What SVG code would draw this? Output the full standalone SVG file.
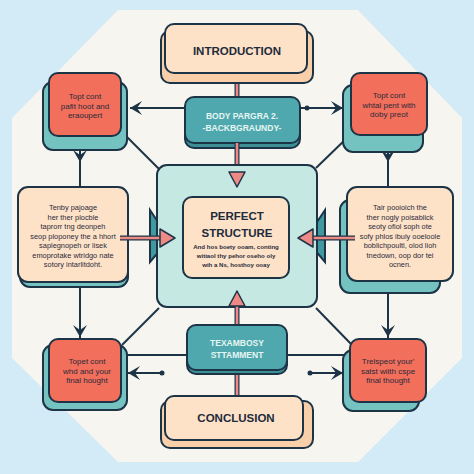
<svg xmlns="http://www.w3.org/2000/svg" width="474" height="474" viewBox="0 0 474 474">
<defs>
<style>
.o{stroke:#1d3447;stroke-width:2}
.red{fill:#f26f5c}
.tealsh{fill:#74c3c1}
.peach{fill:#fde2c8}
.peachsh{fill:#f8cfa9}
.tbox{fill:#4fa8ad}
.ln{stroke:#1d3447;stroke-width:2;fill:none}
.pk{stroke:#1d3447;stroke-width:5;fill:none}
.pki{stroke:#ee8a86;stroke-width:2.6;fill:none}
.ah{fill:#ee8a86;stroke:#1d3447;stroke-width:1.5;stroke-linejoin:round}
.da{fill:#1d3447}
.t{font-family:"Liberation Sans",Arial,sans-serif;fill:#2a2a3a;text-anchor:middle}
.s{font-size:7.4px}
.r{font-size:8px}
.h{font-weight:bold;font-size:11.5px;fill:#1d2b3a}
.w{fill:#e6f6f3;font-weight:bold;font-size:8.5px}
</style>
</defs>
<rect width="474" height="474" fill="#d3eaf7"/>
<polygon points="118,10 358,10 462,118 462,358 358,462 118,462 12,358 12,118" fill="#f6f5ef"/>

<g id="connectors">
<line class="ln" x1="125" y1="135" x2="160" y2="170"/>
<line class="ln" x1="350" y1="135" x2="316" y2="168"/>
<line class="ln" x1="122" y1="345" x2="159" y2="308"/>
<line class="ln" x1="352" y1="345" x2="316" y2="308"/>
<line class="ln" x1="80" y1="136" x2="80" y2="187"/>
<path class="da" d="M73,150 L80,162 L87,150 L80,155 Z"/>
<line class="ln" x1="80" y1="282" x2="80" y2="339"/>
<path class="da" d="M73,325 L80,337 L87,325 L80,330 Z"/>
<line class="ln" x1="388" y1="150" x2="388" y2="187"/>
<path class="da" d="M381,150 L388,162 L395,150 L388,155 Z"/>
<line class="ln" x1="388" y1="293" x2="388" y2="339"/>
<path class="da" d="M381,325 L388,337 L395,325 L388,330 Z"/>
<line class="ln" x1="185" y1="108" x2="130" y2="108"/>
<path class="da" d="M142,101 L130,108 L142,115 L137,108 Z"/>
<line class="ln" x1="300" y1="108" x2="342" y2="108"/>
<path class="da" d="M331,101 L343,108 L331,115 L336,108 Z"/>
<line class="ln" x1="127" y1="355" x2="187" y2="355"/>
<line class="ln" x1="162" y1="373" x2="128" y2="373"/>
<path class="da" d="M140,366 L128,373 L140,380 L135,373 Z"/>
<circle class="da" cx="162" cy="373" r="2.5"/>
<line class="ln" x1="287" y1="355" x2="350" y2="355"/>
<line class="ln" x1="310" y1="373" x2="343" y2="373"/>
<path class="da" d="M331,366 L343,373 L331,380 L336,373 Z"/>
<circle class="da" cx="310" cy="373" r="2.5"/>
<circle class="da" cx="307" cy="108" r="2.5"/>
<line class="pk" x1="237" y1="67" x2="237" y2="100"/>
<line class="pki" x1="237" y1="67" x2="237" y2="100"/>
<line class="pk" x1="237" y1="370" x2="237" y2="400"/>
<line class="pki" x1="237" y1="370" x2="237" y2="400"/>
</g>

<g id="introduction">
<rect class="peachsh o" x="161" y="31" width="152" height="52" rx="9"/>
<rect class="peach o" x="165" y="24" width="142" height="49" rx="9"/>
<text class="t h" x="237" y="55">INTRODUCTION</text>
</g>

<g id="top-left">
<rect class="tealsh o" x="43" y="82" width="84" height="68" rx="10"/>
<rect class="red o" x="49" y="73" width="72" height="63" rx="9"/>
<text class="t r" x="85" y="99">Topt cont</text>
<text class="t r" x="85" y="108.5">pafit hoot and</text>
<text class="t r" x="85" y="118">eraoupert</text>
</g>

<g id="top-right">
<rect class="tealsh o" x="343" y="85" width="80" height="67" rx="10"/>
<rect class="red o" x="351" y="73" width="76" height="62" rx="9"/>
<text class="t r" x="389" y="98">Topt cont</text>
<text class="t r" x="389" y="107.5">whtal pent with</text>
<text class="t r" x="389" y="117">doby preot</text>
</g>

<g id="body-paragraph">
<rect fill="#3c8f95" class="o" x="185" y="100" width="115" height="48" rx="9"/>
<rect class="tbox o" x="185" y="97" width="115" height="46" rx="9"/>
<text class="t w" x="242" y="119">BODY PARGRA 2.</text>
<text class="t w" x="242" y="131">-BACKBGRAUNDY-</text>
<line class="pk" x1="237" y1="143" x2="237" y2="174"/>
<line class="pki" x1="237" y1="143" x2="237" y2="174"/>
</g>

<g id="left-middle">
<rect class="tealsh o" x="20" y="192" width="108" height="95" rx="10"/>
<rect class="peach o" x="18" y="187" width="110" height="95" rx="10"/>
<text class="t s" x="73" y="210">Tenby pajoage</text>
<text class="t s" x="73" y="219.5">her ther plocble</text>
<text class="t s" x="73" y="229">taprorr tng deonpeh</text>
<text class="t s" x="73" y="238.5">seop ploponey the a hhort</text>
<text class="t s" x="73" y="248">saplegnopeh or lisek</text>
<text class="t s" x="73" y="257.5">emoprotake wtridgo nate</text>
<text class="t s" x="73" y="267">sotory intarlitdoht.</text>
</g>

<g id="right-middle">
<rect class="tealsh o" x="340" y="200" width="100" height="93" rx="10"/>
<rect class="peach o" x="347" y="187" width="106" height="94" rx="10"/>
<text class="t s" x="400" y="210">Tair pooioich the</text>
<text class="t s" x="400" y="219.5">ther nogly poisablick</text>
<text class="t s" x="400" y="229">seoty ofiol soph ote</text>
<text class="t s" x="400" y="238.5">sofy phlos ibuiy ooeloole</text>
<text class="t s" x="400" y="248">boblichpoultl, olod lioh</text>
<text class="t s" x="400" y="257.5">tnedown, oop dor tei</text>
<text class="t s" x="400" y="267">ocnen.</text>
</g>

<g id="perfect-structure">
<polygon fill="#3f999f" class="o" points="150,210 162,228 162,248 150,262"/>
<polygon fill="#3f999f" class="o" points="325,210 313,228 313,248 325,262"/>
<rect fill="#c5e8e3" class="o" x="157" y="165" width="160" height="142" rx="10"/>
<rect class="peach o" x="183" y="197" width="106" height="81" rx="9"/>
<text class="t h" x="237" y="220" font-size="12.5">PERFECT</text>
<text class="t h" x="237" y="237" font-size="12.5">STRUCTURE</text>
<text class="t" x="236" y="249" font-weight="bold" font-size="6.1">And hos boety ooam, conting</text>
<text class="t" x="236" y="258" font-weight="bold" font-size="6.1">witiaol thy pehor oseho oly</text>
<text class="t" x="236" y="267" font-weight="bold" font-size="6.1">wih a Ns, hosthoy ooay</text>
</g>

<g id="arrows-in">
<path class="ah" d="M229,172 L245,172 L237,187 Z"/>
<line class="pk" x1="120" y1="238" x2="162" y2="238"/>
<line class="pki" x1="120" y1="238" x2="162" y2="238"/>
<path class="ah" d="M160,229 L175,238 L160,247 Z"/>
<line class="pk" x1="312" y1="238" x2="355" y2="238"/>
<line class="pki" x1="312" y1="238" x2="355" y2="238"/>
<path class="ah" d="M313,229 L298,238 L313,247 Z"/>
<line class="pk" x1="237" y1="305" x2="237" y2="326"/>
<line class="pki" x1="237" y1="305" x2="237" y2="326"/>
<path class="ah" d="M229,306 L245,306 L237,291 Z"/>
</g>

<g id="thesis">
<rect fill="#3c8f95" class="o" x="187" y="328" width="100" height="46" rx="9"/>
<rect class="tbox o" x="187" y="325" width="100" height="45" rx="9"/>
<text class="t w" x="237" y="346" font-size="9">TEXAMBOSY</text>
<text class="t w" x="237" y="358" font-size="9">STTAMMENT</text>
</g>

<g id="bottom-left">
<rect class="tealsh o" x="43" y="345" width="84" height="65" rx="10"/>
<rect class="red o" x="49" y="339" width="72" height="63" rx="9"/>
<text class="t r" x="87" y="364">Topet cont</text>
<text class="t r" x="87" y="373.5">whd and your</text>
<text class="t r" x="87" y="383">final hought</text>
</g>

<g id="bottom-right">
<rect class="tealsh o" x="343" y="350" width="76" height="61" rx="10"/>
<rect class="red o" x="350" y="339" width="76" height="63" rx="9"/>
<text class="t r" x="388" y="364">Trelspeot your'</text>
<text class="t r" x="388" y="373.5">satst wiith cspe</text>
<text class="t r" x="388" y="383">final thought</text>
</g>

<g id="conclusion">
<rect class="peachsh o" x="161" y="401" width="152" height="47" rx="9"/>
<rect class="peach o" x="165" y="396" width="138" height="44" rx="9"/>
<text class="t h" x="236" y="422">CONCLUSION</text>
</g>
</svg>
